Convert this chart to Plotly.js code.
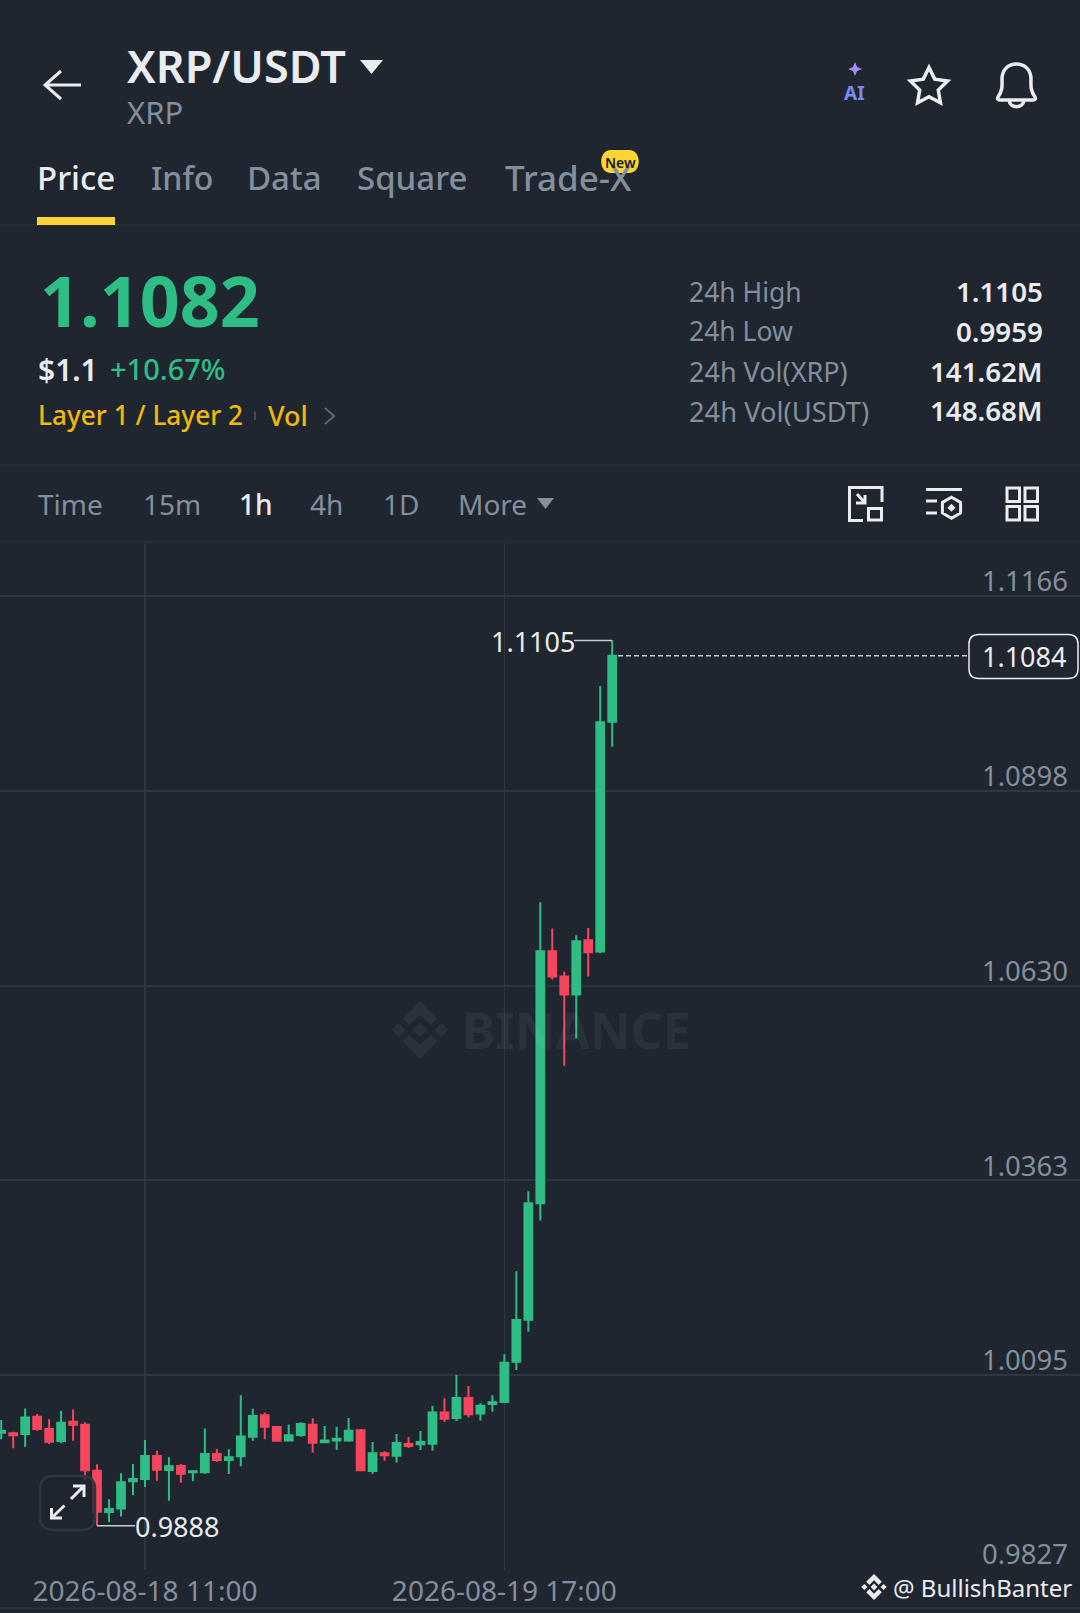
<!DOCTYPE html>
<html><head><meta charset="utf-8">
<script src="https://cdn.plot.ly/plotly-3.0.1.min.js"></script>
<style>html,body{margin:0;padding:0;background:#1F2630}#c{width:1080px;height:1613px}</style>
</head><body><div id="c"></div>
<script>
const times=['2026-08-17 23:00','2026-08-18 00:00','2026-08-18 01:00','2026-08-18 02:00','2026-08-18 03:00','2026-08-18 04:00','2026-08-18 05:00','2026-08-18 06:00','2026-08-18 07:00','2026-08-18 08:00','2026-08-18 09:00','2026-08-18 10:00','2026-08-18 11:00','2026-08-18 12:00','2026-08-18 13:00','2026-08-18 14:00','2026-08-18 15:00','2026-08-18 16:00','2026-08-18 17:00','2026-08-18 18:00','2026-08-18 19:00','2026-08-18 20:00','2026-08-18 21:00','2026-08-18 22:00','2026-08-18 23:00','2026-08-19 00:00','2026-08-19 01:00','2026-08-19 02:00','2026-08-19 03:00','2026-08-19 04:00','2026-08-19 05:00','2026-08-19 06:00','2026-08-19 07:00','2026-08-19 08:00','2026-08-19 09:00','2026-08-19 10:00','2026-08-19 11:00','2026-08-19 12:00','2026-08-19 13:00','2026-08-19 14:00','2026-08-19 15:00','2026-08-19 16:00','2026-08-19 17:00','2026-08-19 18:00','2026-08-19 19:00','2026-08-19 20:00','2026-08-19 21:00','2026-08-19 22:00','2026-08-19 23:00','2026-08-20 00:00','2026-08-20 01:00','2026-08-20 02:00'];
const opens=[1.00158,1.00149,1.00139,1.00378,1.00208,1.00043,1.00309,1.00268,0.99636,0.99068,0.99114,0.99489,0.99521,0.99837,0.99645,0.997,0.99613,0.99613,0.99865,0.99782,0.99833,1.00103,1.00396,1.00236,1.00052,1.00126,1.00268,1.00025,1.00052,1.00052,1.0019,0.99631,0.99874,0.99842,1.00002,0.99998,1.00007,1.00437,1.00359,1.00634,1.00423,1.00552,1.00579,1.01133,1.0171,1.03313,1.06778,1.06429,1.06182,1.06929,1.06773,1.09933];
const highs=[1.00332,1.00172,1.00492,1.00414,1.00341,1.0046,1.00478,1.003,0.99723,0.99242,0.99599,0.99727,1.00057,0.9991,0.99819,0.99727,0.99636,1.00217,0.99933,0.99929,1.00671,1.00488,1.00437,1.0024,1.00272,1.003,1.00355,1.00249,1.0024,1.00359,1.00208,1.0003,0.99901,1.00139,1.00098,1.00181,1.00529,1.0063,1.0095,1.00799,1.00561,1.00671,1.01238,1.02379,1.03478,1.07451,1.07089,1.06494,1.06997,1.07098,1.10423,1.1105];
const lows=[1.00066,0.99943,0.99965,1.00185,1.00002,1.00011,1.00048,0.99507,0.9888,0.9893,0.99004,0.99297,0.99411,0.99498,0.99223,0.99471,0.99489,0.99594,0.99759,0.9959,0.99695,1.00048,1.00066,1.00034,1.00048,1.00103,0.99883,1.0002,0.9992,1.00034,0.99627,0.99594,0.99773,0.99746,0.99947,0.9992,0.9991,1.00309,1.00318,1.00368,1.00327,1.00446,1.0057,1.01019,1.01545,1.03075,1.06388,1.05202,1.05578,1.06429,1.0675,1.0959];
const closes=[1.00181,1.00121,1.00368,1.00208,1.00034,1.00295,1.00268,0.9964,0.99072,0.99109,0.99475,0.99521,0.99837,0.99649,0.99695,0.99594,0.99627,0.99865,0.99782,0.99819,1.00107,1.00387,1.0024,1.00048,1.00121,1.00277,1.0002,1.00052,1.00075,1.00185,0.9964,0.99874,0.99846,1.00016,0.99975,1.0003,1.00437,1.0035,1.00634,1.0041,1.00529,1.00575,1.01119,1.01706,1.03313,1.06778,1.06429,1.06182,1.06915,1.06764,1.09924,1.1084];
const priceTicks=[1.1166,1.0898,1.0630,1.0363,1.0095,0.9827];
const priceTickLabels=['1.1166','1.0898','1.0630','1.0363','1.0095','0.9827'];
const timeTicks=['2026-08-18 11:00','2026-08-19 17:00'];
const highVal=1.1105,lowVal=0.9888,lastVal=1.1084;

const BG='#1F2630',GRID='#2F3640',GREY='#848E9C',WHITE='#EAECEF',GREEN='#2EBD85',RED='#F6465D',YEL='#F0B90B',FONT='"Noto Sans", sans-serif';
const T=543,B=1570;
const px=x=>x/1080, py=y=>(B-y)/(B-T);
const A=(text,x,y,size,color,anchor='left',weight=400)=>({text:text,x:px(x+(anchor==='left'?-2:anchor==='right'?2.5:0)),y:py(y),xref:'paper',yref:'paper',xanchor:anchor,yanchor:'middle',showarrow:false,font:{family:FONT,size:size,color:color,weight:weight}});
const P=d=>d.replace(/(-?[\d.]+) (-?[\d.]+)/g,(m,a,b)=>px(+a).toFixed(5)+' '+py(+b).toFixed(5));
const S=(d,color,w=2.5,fill,layer='above')=>({type:'path',xref:'paper',yref:'paper',path:P(d),layer:layer,line:{color:color,width:w},fillcolor:fill||'rgba(0,0,0,0)'});
const poly=(cx,cy,r,pts)=>'M '+pts.map(p=>(cx+p[0]*r).toFixed(2)+' '+(cy+p[1]*r).toFixed(2)).join(' L ')+' Z';
function logo(cx,cy,r,color,layer){
 const d=(x,s)=>[[x,-s],[x+s,0],[x,s],[x-s,0]];
 return [d(0,.26),d(-.74,.24),d(.74,.24),[[0,-1],[.6,-.4],[.36,-.16],[0,-.52],[-.36,-.16],[-.6,-.4]],[[0,1],[.6,.4],[.36,.16],[0,.52],[-.36,.16],[-.6,.4]]]
  .map(p=>S(poly(cx,cy,r,p),color,0,color,layer));
}
const starPts=[];for(let k=0;k<10;k++){const a=-Math.PI/2+k*Math.PI/5,r=k%2?.5:1;starPts.push([r*Math.cos(a),r*Math.sin(a)]);}
const hexPts=[];for(let k=0;k<6;k++){const a=-Math.PI/2+k*Math.PI/3;hexPts.push([Math.cos(a),Math.sin(a)]);}

const rule=(y,color='#2B323C',w=1.5,x0=0,x1=1080)=>S(`M ${x0} ${y} L ${x1} ${y}`,color,w);
const shapes=[
 S('M 0 542 L 1080 542','#262D37',3),
 rule(225),rule(465),rule(1608),
 S('M 37 217 L 115 217 L 115 225 L 37 225 Z','#FCD535',0,'#FCD535'),
 S('M 81 85 L 45 85 M 61 71 L 45 85 L 61 99',WHITE,3),
 S('M 360 60 L 383 60 L 371.5 74 Z',WHITE,0,WHITE),
 S('M 537 498 L 554 498 L 545.5 509 Z',GREY,0,GREY),
 S('M 325 408 L 334 416 L 325 424','#5E6673',2),
 S('M 255 411 L 255 420','#474D57',2),
 S(poly(855,69,7,[[0,-1],[.3,-.3],[1,0],[.3,.3],[0,1],[-.3,.3],[-1,0],[-.3,-.3]]),'#A78BFA',0,'#A78BFA'),
 S(poly(929,87,19.5,starPts),WHITE,3.5),
 S('M 998 97 C 1003 90 1002 85 1002 79 C 1002 70 1008 64 1016.5 64 C 1025 64 1031 70 1031 79 C 1031 85 1030 90 1035 97 C 1036 99 1035 100 1033 100 L 1000 100 C 998 100 997 99 998 97 Z',WHITE,3.5),
 S('M 1009 100 C 1010 109 1023 109 1024 100',WHITE,3.5),
 S('M 882 502 L 882 487.5 L 849.5 487.5 L 849.5 520.5 L 863 520.5',WHITE,3),
 S('M 868.5 508.5 L 881.5 508.5 L 881.5 520 L 868.5 520 Z',WHITE,3),
 S('M 857 494 L 865 503 M 856 503 L 865 503 L 865 495',WHITE,3),
 S('M 926 489.5 L 962 489.5 M 926 501 L 937 501 M 926 513 L 937 513',WHITE,3),
 S(poly(951.5,507.7,10.5,hexPts),WHITE,3),
 S(poly(951.5,507.7,4,[[0,-1],[1,0],[0,1],[-1,0]]),WHITE,0,WHITE),
 S('M 1007 488 L 1019.5 488 L 1019.5 501.5 L 1007 501.5 Z',WHITE,3),
 S('M 1025 488 L 1037.5 488 L 1037.5 501.5 L 1025 501.5 Z',WHITE,3),
 S('M 1007 506.5 L 1019.5 506.5 L 1019.5 520 L 1007 520 Z',WHITE,3),
 S('M 1025 506.5 L 1037.5 506.5 L 1037.5 520 L 1025 520 Z',WHITE,3),
 S('M 611 150 L 629 150 C 642 150 642 173 629 173 L 611 173 C 598 173 598 150 611 150 Z','#FCD535',0,'#FCD535'),
 S('M 52 1476 L 83 1476 C 90 1476 95 1481 95 1488 L 95 1518 C 95 1525 90 1530 83 1530 L 52 1530 C 45 1530 40 1525 40 1518 L 40 1488 C 40 1481 45 1476 52 1476 Z','#2F3640',2.5,'rgba(31,38,48,0.72)'),
 S('M 51.5 1518 L 64.5 1505.5 M 51.5 1508 L 51.5 1518 L 62 1518',WHITE,3),
 S('M 71 1499 L 84 1486 M 73 1486 L 84 1486 L 84 1497',WHITE,3),
 {type:'line',xref:'paper',yref:'y',x0:px(574),x1:px(612.2),y0:highVal,y1:highVal,line:{color:'#C8CCD2',width:1.5}},
 {type:'line',xref:'paper',yref:'y',x0:px(97),x1:px(135),y0:lowVal,y1:lowVal,line:{color:'#C8CCD2',width:1.5}},
 {type:'line',xref:'paper',yref:'y',x0:px(618),x1:px(969),y0:lastVal,y1:lastVal,line:{color:'#C8CCD2',width:1.5,dash:'5px,3px'}},
 S('M 979 634.5 L 1068 634.5 C 1075 634.5 1078 638 1078 644 L 1078 669 C 1078 675 1075 678.5 1068 678.5 L 979 678.5 C 972 678.5 969 675 969 669 L 969 644 C 969 638 972 634.5 979 634.5 Z',WHITE,1.5,BG),
 ...logo(420,1030,29,'#2A313B','below'),
 ...logo(874,1587,13,WHITE),
];

const annotations=[
 A('XRP/USDT',127,66,45,WHITE,'left',600),
 A('XRP',127,112,31,GREY),
 A('Price',37,178,33,WHITE,'left',500),
 A('Info',151,178,32,GREY,'left',500),
 A('Data',247,178,33,GREY,'left',500),
 A('Square',357,178,33,GREY,'left',500),
 A('Trade-X',505,178,35,GREY,'left',500),
 A('New',620,162,14,'#181A20','center',600),
 A('AI',854,93,19,'#7B8CF5','center',700),
 A('1.1082',40,300,70,GREEN,'left',700),
 A('$1.1',38,369,30,WHITE,'left',600),
 A('+10.67%',110,368,29,GREEN,'left',500),
 A('Layer 1 / Layer 2',38,415,26.2,YEL,'left',500),
 A('Vol',268,415,27,YEL,'left',500),
 A('24h High',689,292,26.5,GREY),A('24h Low',689,331,26.5,GREY),A('24h Vol(XRP)',689,371,27,GREY),A('24h Vol(USDT)',689,411,27.3,GREY),
 A('1.1105',1042,291,27.7,WHITE,'right',600),A('0.9959',1042,331,27.7,WHITE,'right',600),A('141.62M',1042,371,27.7,WHITE,'right',600),A('148.68M',1042,410,27.7,WHITE,'right',600),
 A('Time',38,504,28,GREY),A('15m',143,504,28,GREY),A('1h',239,504,28,WHITE,'left',500),A('4h',310,504,28,GREY),A('1D',383,504,28,GREY),A('More',458,504,28,GREY),
 A('BINANCE',576,1030,50,'rgba(255,255,255,0.05)','center',700),
 A('1.1105',574,641,27,WHITE,'right'),
 A('0.9888',135,1526,27,WHITE,'left'),
 A('1.1084',1023.5,656,27,WHITE,'center'),
 A(priceTickLabels[5],1067,1553,27.5,GREY,'right'),
 A('@ BullishBanter',1071,1587,24,WHITE,'right'),
];

const trace={type:'candlestick',x:times,open:opens,high:highs,low:lows,close:closes,whiskerwidth:0,hoverinfo:'skip',
 increasing:{line:{color:GREEN,width:2},fillcolor:GREEN},decreasing:{line:{color:RED,width:2},fillcolor:RED}};
const layout={width:1080,height:1613,margin:{l:0,r:0,t:T,b:1613-B,pad:0},paper_bgcolor:BG,plot_bgcolor:BG,showlegend:false,dragmode:false,
 font:{family:FONT},boxgap:0.08,
 xaxis:{type:'date',range:['2026-08-17 22:54','2026-08-21 17:03'],rangeslider:{visible:false},tickmode:'array',tickvals:timeTicks,ticktext:timeTicks,showgrid:true,gridcolor:GRID,gridwidth:1.5,zeroline:false,showline:false,ticks:'',ticklabelstandoff:2,tickfont:{family:FONT,size:28,color:GREY}},
 yaxis:{type:'linear',side:'right',range:[0.9827,1.1239],tickmode:'array',tickvals:priceTicks,ticktext:priceTickLabels.slice(0,5).concat(''),ticklabelposition:'inside top',ticklabelstandoff:9,ticklabelshift:5,showgrid:true,gridcolor:GRID,gridwidth:1.5,zeroline:false,showline:false,ticks:'',tickfont:{family:FONT,size:27.5,color:GREY}},
 shapes:shapes,annotations:annotations};
Plotly.newPlot('c',[trace],layout,{staticPlot:true,displayModeBar:false});
</script></body></html>
